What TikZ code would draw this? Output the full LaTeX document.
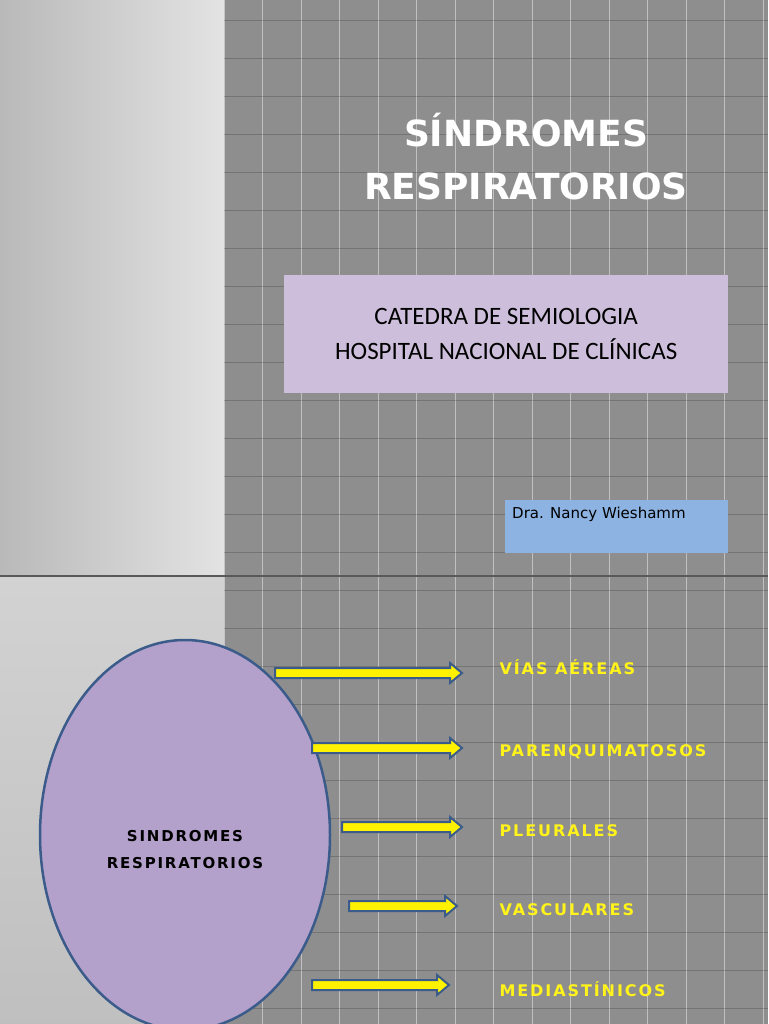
\documentclass[tikz,border=0pt]{standalone}
\usepackage{fontspec}
\usetikzlibrary{shapes.geometric}
\setmainfont{DejaVu Sans}
\newfontfamily\carfont{Carlito}
\newfontfamily\spfont[LetterSpace=12]{DejaVu Sans}
\begin{document}
\begin{tikzpicture}[x=1pt,y=-1pt,
  arr/.style={draw={rgb,255:red,59;green,92;blue,138},line width=2pt,fill=yellow,line join=miter},
  lab/.style={anchor=west,text=yellow!90!white,font=\spfont\bfseries\fontsize{16}{16}\selectfont},
]
\useasboundingbox (0,0) rectangle (768,1024);
\definecolor{dg}{HTML}{8E8E8E}
\fill[dg] (224,0) rectangle (768,1024);
\shade[left color=gray!55,right color=gray!22] (0,0) rectangle (224,576);
\shade[top color=gray!35,bottom color=gray!50] (0,576) rectangle (224,1024);
\foreach \i in {0,...,14}{\draw[white,opacity=0.45,line width=0.8pt] ({224+\i*38.5},0) -- ({224+\i*38.5},1024);}
\foreach \i in {0,...,27}{\draw[black,line width=0.5pt,opacity=0.18] (224,{\i*38+20}) -- (768,{\i*38+20});}
\draw[gray!70!black,line width=1.2pt] (0,576) -- (768,576);
\node[font=\bfseries\fontsize{36}{53}\selectfont,text=white,align=center] (t) at (526,157) {SÍNDROMES\\RESPIRATORIOS};
\node[fill={rgb,255:red,205;green,191;blue,219},minimum width=444,minimum height=118,inner sep=0,anchor=north west] (b) at (284,275) {};
\node[font=\carfont\fontsize{25}{35}\selectfont,align=center] at (b.center) {CATEDRA DE SEMIOLOGIA\\HOSPITAL NACIONAL DE CLÍNICAS};
\node[fill={rgb,255:red,141;green,179;blue,226},minimum width=223,minimum height=53,inner sep=0,anchor=north west] (d) at (505,500) {};
\node[anchor=north west,font=\fontsize{15}{15}\selectfont,inner sep=0] at (512,507) {Dra. Nancy Wieshamm};
\node[draw={rgb,255:red,59;green,92;blue,138},line width=2.5pt,fill={rgb,255:red,179;green,160;blue,203},ellipse,minimum width=290,minimum height=390,inner sep=0] (e) at (185,835) {};
\node[align=center,font=\spfont\bfseries\fontsize{15}{27}\selectfont] at (185,850) {SINDROMES\\RESPIRATORIOS};
\foreach \a/\b/\y/\ly/\t in {275/462/673/667/VÍAS AÉREAS,312/462/748/752/PARENQUIMATOSOS,342/462/827/831/PLEURALES,349/457/906/910/VASCULARES,312/449/985/989/MEDIASTÍNICOS}{
  \draw[arr] (\a,\y-5) -- (\b-12,\y-5) -- (\b-12,\y-10) -- (\b,\y) -- (\b-12,\y+10) -- (\b-12,\y+5) -- (\a,\y+5) -- cycle;
  \node[lab] at (496,\ly) {\t};
}
\end{tikzpicture}
\end{document}
